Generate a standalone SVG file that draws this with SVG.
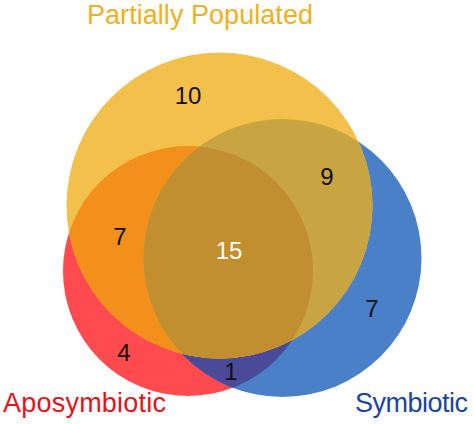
<svg xmlns="http://www.w3.org/2000/svg" width="474" height="424" viewBox="0 0 474 424">
<style>
.lbl{font-family:"Liberation Sans",Arial,sans-serif;font-size:27px}
.num{font-family:"Liberation Sans",Arial,sans-serif;font-size:24px;text-anchor:middle;fill:#111}
</style>
<defs>
<clipPath id="cR"><circle cx="188" cy="271" r="125"/></clipPath>
<clipPath id="cB"><circle cx="282.5" cy="258" r="139"/></clipPath>
<clipPath id="cY"><circle cx="219.5" cy="205.5" r="153"/></clipPath>
</defs>
<rect width="474" height="424" fill="#fff"/>
<g id="aposymbiotic">
<circle cx="188" cy="271" r="125" fill="#FF4B4F"/>
</g>
<g id="symbiotic">
<circle cx="282.5" cy="258" r="139" fill="#4A80C8"/>
<circle cx="282.5" cy="258" r="139" fill="#4B4A98" clip-path="url(#cR)"/>
</g>
<g id="partially-populated">
<circle cx="219.5" cy="205.5" r="153" fill="#F3C04C"/>
<circle cx="219.5" cy="205.5" r="153" fill="#F3901C" clip-path="url(#cR)"/>
<circle cx="219.5" cy="205.5" r="153" fill="#C8A442" clip-path="url(#cB)"/>
<g clip-path="url(#cR)"><circle cx="219.5" cy="205.5" r="153" fill="#C18F30" clip-path="url(#cB)"/></g>
</g>
<g id="labels">
<text class="lbl" x="87" y="24" fill="#EFB022" textLength="226">Partially Populated</text>
<text class="lbl" x="3" y="412" fill="#E5121B" textLength="163">Aposymbiotic</text>
<text class="lbl" x="355" y="412" fill="#1B44A0" textLength="113">Symbiotic</text>
</g>
<g id="counts">
<text class="num" x="188" y="104">10</text>
<text class="num" x="327" y="185">9</text>
<text class="num" x="120" y="245">7</text>
<text class="num" x="229" y="259" style="fill:#fff">15</text>
<text class="num" x="372" y="317">7</text>
<text class="num" x="124" y="361">4</text>
<text class="num" x="231" y="380">1</text>
</g>
</svg>
